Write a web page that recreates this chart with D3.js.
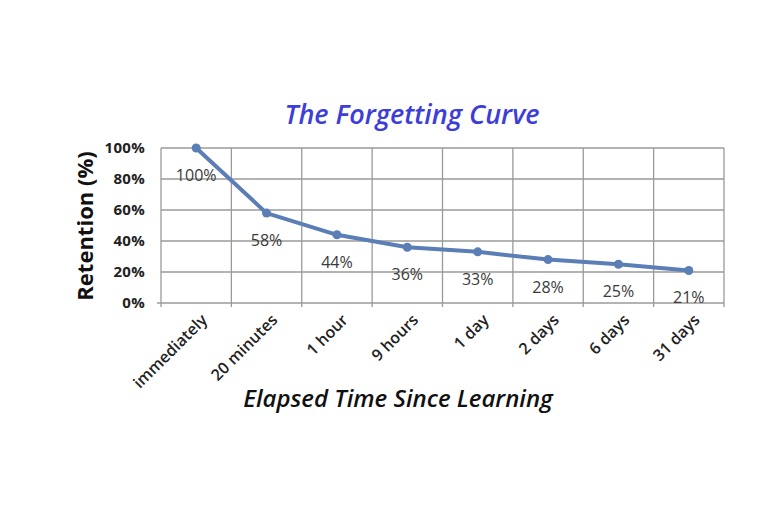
<!DOCTYPE html>
<html>
<head>
<meta charset="utf-8">
<script src="https://cdn.jsdelivr.net/npm/d3@7"></script>
<style>
  body { margin: 0; background: #fff; }
  svg { display: block; }
</style>
</head>
<body>
<svg></svg>
<script>
var categories = ['immediately', '20 minutes', '1 hour', '9 hours', '1 day', '2 days', '6 days', '31 days'];
var retention = [100, 58, 44, 36, 33, 28, 25, 21];
var yTicks = [0, 20, 40, 60, 80, 100];

var svgWidth = 768;
var svgHeight = 512;
var margin = {top: 148, right: 44, bottom: 209, left: 161};
var width = svgWidth - margin.left - margin.right;
var height = svgHeight - margin.top - margin.bottom;

var svg = d3.select('svg')
  .attr('width', svgWidth)
  .attr('height', svgHeight);

var g = svg.append('g')
  .attr('transform', translate(margin.left, margin.top));

var x = d3.scaleBand()
  .domain(categories)
  .range([0, width]);

var y = d3.scaleLinear()
  .domain([0, 100])
  .range([height, 0]);

// ----- grid ----- //
g.selectAll('.hgrid')
  .data(yTicks)
  .enter()
  .append('line')
  .attr('x1', function(d) { return d === 0 ? -4 : 0; })
  .attr('x2', width)
  .attr('y1', function(d) { return y(d); })
  .attr('y2', function(d) { return y(d); })
  .style('stroke', '#9a9a9a')
  .style('stroke-width', 1.3);

var bounds = categories.map(function(c) { return x(c); }).concat([width]);
g.selectAll('.vgrid')
  .data(bounds)
  .enter()
  .append('line')
  .attr('x1', function(d) { return d; })
  .attr('x2', function(d) { return d; })
  .attr('y1', 0)
  .attr('y2', height + 4)
  .style('stroke', '#9a9a9a')
  .style('stroke-width', 1.3);

// ----- axes ----- //
var yAxis = g.append('g')
  .call(d3.axisLeft(y).tickValues(yTicks).tickSize(0).tickPadding(16)
    .tickFormat(function(d) { return d + '%'; }));
yAxis.select('.domain').remove();
yAxis.selectAll('text')
  .style('font-family', '"Open Sans", sans-serif')
  .style('font-size', '15px')
  .style('font-weight', 'bold')
  .style('letter-spacing', '0.3px')
  .style('fill', '#222');

var xAxis = g.append('g')
  .attr('transform', translate(0, height))
  .call(d3.axisBottom(x).tickSize(0).tickPadding(0));
xAxis.select('.domain').remove();
xAxis.selectAll('text')
  .attr('text-anchor', 'end')
  .attr('dy', 0)
  .attr('transform', 'translate(12,18) rotate(-45)')
  .style('font-family', '"Open Sans", sans-serif')
  .style('font-size', '16px')
  .style('font-weight', 600)
  .style('fill', '#222');

// ----- line ----- //
var line = d3.line()
  .x(function(d, i) { return x(categories[i]) + x.bandwidth() / 2; })
  .y(function(d) { return y(d); });

g.append('path')
  .datum(retention)
  .attr('d', line)
  .style('fill', 'none')
  .style('stroke', '#5a7eb5')
  .style('stroke-width', 4)
  .style('stroke-linejoin', 'round');

g.selectAll('circle')
  .data(retention)
  .enter()
  .append('circle')
  .attr('cx', function(d, i) { return x(categories[i]) + x.bandwidth() / 2; })
  .attr('cy', function(d) { return y(d); })
  .attr('r', 4.5)
  .style('fill', '#5a7eb5');

g.selectAll('.val')
  .data(retention)
  .enter()
  .append('text')
  .attr('x', function(d, i) { return x(categories[i]) + x.bandwidth() / 2; })
  .attr('y', function(d) { return y(d) + 33; })
  .attr('text-anchor', 'middle')
  .style('font-family', '"Open Sans", sans-serif')
  .style('font-size', '16px')
  .style('fill', '#3a3a3a')
  .text(function(d) { return d + '%'; });

// ----- titles ----- //
svg.append('text')
  .attr('x', 412)
  .attr('y', 124)
  .attr('text-anchor', 'middle')
  .style('font-family', '"Open Sans", sans-serif')
  .style('font-size', '27px')
  .style('font-style', 'italic')
  .style('font-weight', 600)
  .style('fill', '#3d3dd8')
  .text('The Forgetting Curve');

svg.append('text')
  .attr('transform', translate(93, 226) + ' rotate(-90)')
  .attr('text-anchor', 'middle')
  .style('font-family', '"Open Sans", sans-serif')
  .style('font-size', '22px')
  .style('font-weight', 'bold')
  .style('fill', '#111')
  .text('Retention (%)');

svg.append('text')
  .attr('x', 398)
  .attr('y', 407)
  .attr('text-anchor', 'middle')
  .style('font-family', '"Open Sans", sans-serif')
  .style('font-size', '24px')
  .style('font-style', 'italic')
  .style('font-weight', 600)
  .style('fill', '#111')
  .text('Elapsed Time Since Learning');

function translate(x, y) {
  return 'translate(' + x + ',' + y + ')';
}
</script>
</body>
</html>
